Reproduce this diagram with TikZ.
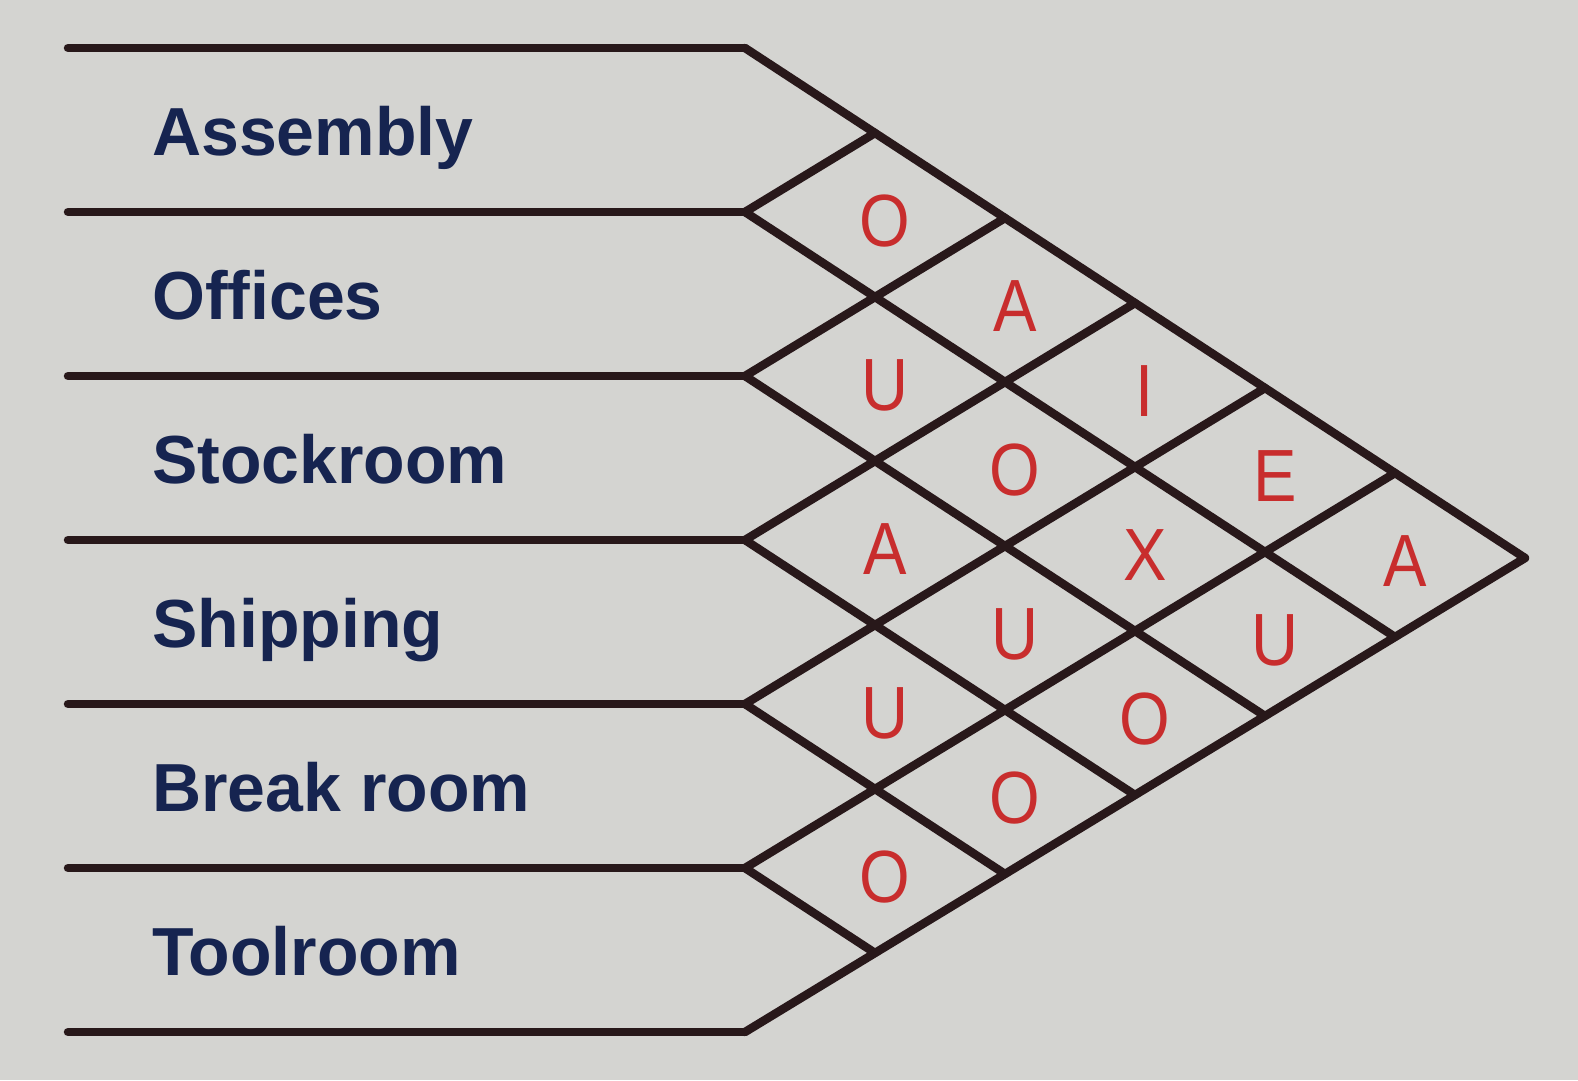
\documentclass[tikz,border=0pt]{standalone}
\usepackage{fontspec}
\setmainfont{Liberation Sans}
\definecolor{bg}{RGB}{212,212,209}
\definecolor{ln}{RGB}{40,24,26}
\definecolor{lab}{RGB}{22,36,80}
\definecolor{rel}{RGB}{200,45,45}
\begin{document}
\begin{tikzpicture}[x=1pt,y=-1pt,
  gridline/.style={draw=ln,line width=8.5pt,line cap=round,line join=round},
  dept/.style={anchor=base west,text=lab,inner sep=0pt,font=\fontsize{68}{72}\selectfont\bfseries},
  relcode/.style={anchor=center,text=rel,inner sep=0pt,xscale=0.88,font=\fontsize{74}{78}\selectfont}]
\fill[bg] (0,0) rectangle (1578,1080);
\useasboundingbox (0,0) rectangle (1578,1080);
\def\xo{745}\def\yo{48}\def\hh{164}\def\aa{130}\def\sh{3}
% boundary points
\foreach \i in {0,...,6}{
  \coordinate (b\i) at (\xo,{\yo+\i*\hh});
  \coordinate (l\i) at (68,{\yo+\i*\hh});
}
\foreach \i in {0,...,5}{
  \coordinate (d\i) at ({\xo+(6-\i)*\aa},{\yo+\i*\hh+(6-\i)*(\hh/2+\sh)});
}
\foreach \i in {1,...,6}{
  \coordinate (u\i) at ({\xo+\i*\aa},{\yo+\i*(\hh/2+\sh)});
}
% horizontal rules
\foreach \i in {0,...,6}{ \draw[gridline] (l\i) -- (b\i); }
% diagonal lattice
\foreach \i in {0,...,5}{ \draw[gridline] (b\i) -- (d\i); }
\foreach \i in {1,...,6}{ \draw[gridline] (b\i) -- (u\i); }
% department labels
\foreach \i/\t in {0/Assembly,1/Offices,2/Stockroom,3/Shipping,4/Break room,5/Toolroom}{
  \node[dept] (dept\i) at (152,{\yo+(\i+0.5)*\hh+25}) {\t};
}
% relationship codes
\foreach \i/\j/\c in {0/1/O,0/2/A,0/3/I,0/4/E,0/5/A,1/2/U,1/3/O,1/4/X,1/5/U,2/3/A,2/4/U,2/5/O,3/4/U,3/5/O,4/5/O}{
  \node[relcode] (r\i\j) at ({\xo+(\j-\i)*\aa+10},{\yo+((\i+\j)/2+0.5)*\hh+(\j-\i)*\sh+6}) {\c};
}
\end{tikzpicture}
\end{document}
